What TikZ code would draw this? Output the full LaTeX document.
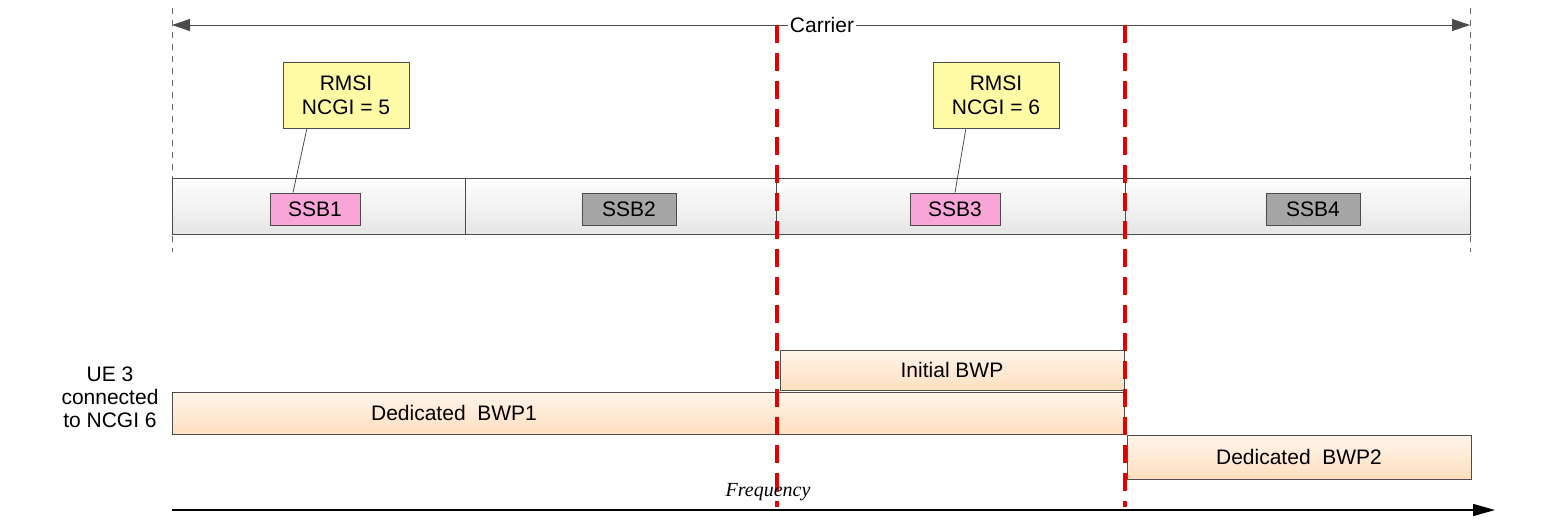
\documentclass[tikz,border=0pt]{standalone}
\usepackage{fontspec}
\setmainfont{Liberation Sans}
\newfontfamily\serifit{Liberation Serif}
\usetikzlibrary{arrows.meta}
\begin{document}
\begin{tikzpicture}[x=0.5pt,y=-0.5pt,font=\fontsize{10.5}{12}\selectfont,
  band/.style={draw=black!70,top color=white,bottom color=black!10,line width=0.5pt},
  bwp/.style={draw=black!70,top color=orange!8,bottom color=orange!25,line width=0.5pt,inner sep=0},
  ssbp/.style={draw=black!70,fill=magenta!35,minimum width=45pt,minimum height=16pt,inner sep=0},
  ssbg/.style={draw=black!70,fill=black!35,minimum width=47pt,minimum height=16pt,inner sep=0},
  rmsi/.style={draw=black!70,fill=yellow!35,minimum width=63pt,minimum height=33pt,align=center,inner sep=1pt},
  redline/.style={red!90!black,dashed,line width=1.6pt,dash pattern=on 9pt off 5pt},
  guide/.style={black!60,dashed,line width=0.4pt}]
\useasboundingbox (0,0) rectangle (1565,531);
% carrier
\coordinate (cl) at (172,25); \coordinate (cr) at (1470,25);
\draw[guide] (172,8) -- (172,252);
\draw[guide] (1470,8) -- (1470,252);
\draw[black!70,line width=0.5pt,{Triangle[length=9pt,width=6pt]}-{Triangle[length=9pt,width=6pt]}] (cl) -- (cr);
\node[fill=white,inner sep=1pt] (car) at (822,25) {Carrier};
% band
\node[band,minimum width=649pt,minimum height=28pt,inner sep=0] (band) at (821,206) {};
\draw[black!70,line width=0.5pt] (465,178) -- (465,234);
\draw[black!70,line width=0.5pt] (776,178) -- (776,234);
\draw[black!70,line width=0.5pt] (1125,178) -- (1125,234);
\node[ssbp] (s1) at (315,209) {SSB1};
\node[ssbg] (s2) at (629,209) {SSB2};
\node[ssbp] (s3) at (955,209) {SSB3};
\node[ssbg] (s4) at (1313,209) {SSB4};
\node[rmsi] (r1) at (346,95) {RMSI\\NCGI = 5};
\node[rmsi] (r2) at (996,95) {RMSI\\NCGI = 6};
\draw[black!70] (307,128) -- (s1.north -| 293,0);
\draw[black!70] (966,128) -- (s3.north -| 955,0);
% BWPs
\node[bwp,minimum width=172pt,minimum height=20pt] (ib) at (952,370) {Initial BWP};
\node[bwp,minimum width=476pt,minimum height=21pt] (d1) at (648,413) {\hspace*{-194pt}Dedicated\ \ BWP1};
\node[bwp,minimum width=172pt,minimum height=22pt] (d2) at (1299,457) {Dedicated\ \ BWP2};
\node[align=center,font=\fontsize{10.5}{11.5}\selectfont] (ue) at (110,397) {UE 3\\connected\\to NCGI 6};
% red lines
\draw[redline] (777,25) -- (777,507);
\draw[redline] (1125,25) -- (1125,507);
% frequency
\coordinate (fl) at (172,510); \coordinate (fr) at (1495,510);
\draw[line width=0.7pt,-{Triangle[length=11pt,width=6pt]}] (fl) -- (fr);
\node[font=\serifit\itshape\fontsize{10}{12}\selectfont] (fq) at (768,492) {Frequency};
\end{tikzpicture}
\end{document}
